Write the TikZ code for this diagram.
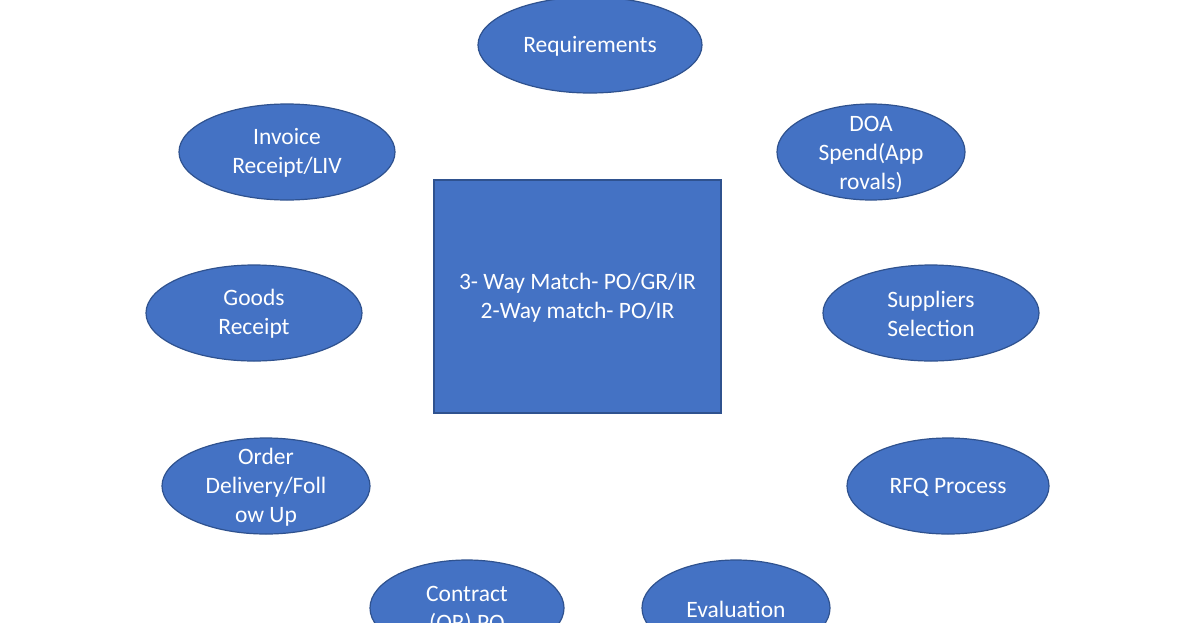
\documentclass[tikz,border=0pt]{standalone}
\usepackage{fontspec}
\setmainfont{Carlito}
\usetikzlibrary{shapes.geometric}
\definecolor{fillb}{HTML}{4472C4}
\definecolor{edgeb}{HTML}{2F528F}
\begin{document}
\begin{tikzpicture}[x=1pt,y=-1pt,
  el/.style={draw=edgeb,line width=1.2pt,fill=fillb},
  lbl/.style={text=white,align=center,font=\fontsize{23.5}{29}\selectfont}]
\useasboundingbox (0,0) rectangle (1183,622);
\clip (0,0) rectangle (1183,622);
\fill[white] (0,0) rectangle (1183,622);
\path[el] (590,45) ellipse [x radius=112,y radius=48];
\node[lbl] (req) at (590,46) {Requirements};
\path[el] (287,152) ellipse [x radius=108,y radius=48];
\node[lbl] (inv) at (287,153) {Invoice\\Receipt/LIV};
\path[el] (871,152) ellipse [x radius=94,y radius=48];
\node[lbl] (doa) at (871,154) {DOA\\Spend(App\\rovals)};
\path[el] (254,313) ellipse [x radius=108,y radius=48];
\node[lbl] (gr) at (254,314) {Goods\\Receipt};
\path[el] (931,313) ellipse [x radius=108,y radius=48];
\node[lbl] (sup) at (931,314) {Suppliers\\Selection};
\path[el] (266,486) ellipse [x radius=104,y radius=48];
\node[lbl] (ord) at (266,487) {Order\\Delivery/Foll\\ow Up};
\path[el] (948,486) ellipse [x radius=101,y radius=48];
\node[lbl] (rfq) at (948,487) {RFQ Process};
\path[el] (467,608) ellipse [x radius=97,y radius=48];
\node[lbl,anchor=north] (con) at (467,583) {Contract\\(OR) PO};
\path[el] (736,608) ellipse [x radius=94,y radius=48];
\node[lbl] (eva) at (736,609) {Evaluation};
\draw[el] (434,180) rectangle (721,413);
\node[lbl] (mid) at (577.5,298) {3- Way Match- PO/GR/IR\\2-Way match- PO/IR};
\end{tikzpicture}
\end{document}
